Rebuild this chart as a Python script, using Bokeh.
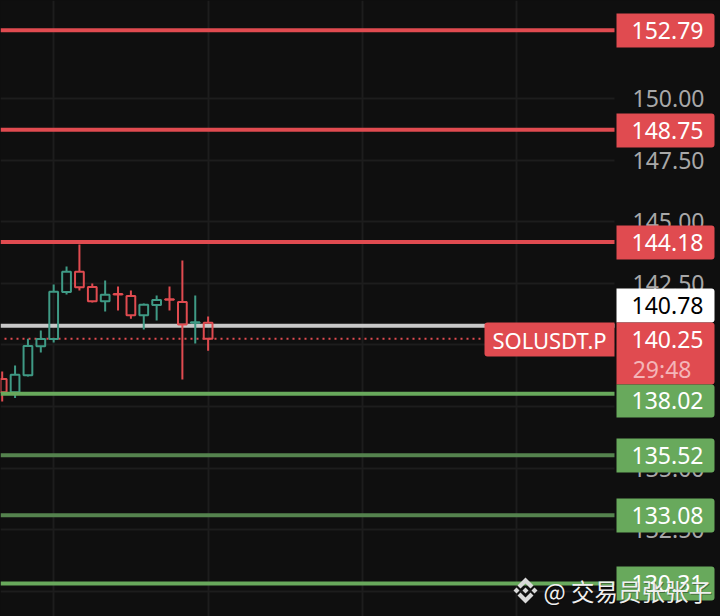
from bokeh.embed import file_html
from bokeh.resources import INLINE
from bokeh.plotting import figure
from bokeh.models import BoxAnnotation, Label, FixedTicker, NumeralTickFormatter, Range1d

symbol = "SOLUSDT.P"
countdown = "29:48"
watermark = "@ 交易员张张子"
price_ticks = [130.0, 132.5, 135.0, 137.5, 140.0, 142.5, 145.0, 147.5, 150.0]
time_ticks = [4, 16, 28, 40]

candle_index = list(range(17))
opens = [138.62, 138.08, 138.77, 139.95, 140.24, 142.15, 142.97, 142.36, 141.78, 142.07, 141.99, 141.21, 141.62, 141.86, 141.75, 140.90, 140.90]
closes = [138.08, 138.79, 139.96, 140.24, 142.16, 142.97, 142.35, 141.78, 142.04, 142.05, 141.21, 141.63, 141.83, 141.84, 140.83, 140.92, 140.25]
highs = [138.92, 139.17, 140.25, 140.59, 142.46, 143.19, 144.08, 142.50, 142.62, 142.38, 142.21, 141.68, 142.01, 142.38, 143.43, 142.01, 141.16]
lows = [137.70, 137.84, 138.72, 139.69, 140.10, 142.05, 142.21, 141.73, 141.36, 141.40, 141.07, 140.63, 140.99, 141.40, 138.60, 140.06, 139.77]

resistance_levels = [152.79, 148.75, 144.18]
support_levels = [138.02, 135.52, 133.08, 130.31]
support_colors = ["#68a95c", "#55834e", "#55834e", "#68a95c"]
mark_price = 140.78
last_price = 140.25

BG = "#0f0f0f"
RED = "#e04b50"
GREEN = "#68a95c"
UP = "#3f9a85"
GRID = "#1d1d1d"
FONT = "Noto Sans"

PX_PER_UNIT = 24.61
PX_PER_BAR = 12.87
Y_TOP = 153.997
X_LEFT = -0.132
PANE_W = 614
FULL_W = 720


def px(sx):
    return X_LEFT + sx / PX_PER_BAR


def py(sy):
    return Y_TOP - sy / PX_PER_UNIT


p = figure(width=FULL_W, height=616, frame_width=FULL_W, frame_height=616,
           x_range=Range1d(X_LEFT, px(FULL_W)), y_range=Range1d(py(616), Y_TOP),
           y_axis_location="right", toolbar_location=None, output_backend="svg",
           background_fill_color=BG, border_fill_color=BG, outline_line_color=None,
           min_border=0, styles={"background-color": BG})
p.xaxis.visible = False
ax = p.yaxis[0]
ax.ticker = FixedTicker(ticks=price_ticks)
ax.formatter = NumeralTickFormatter(format="0.00")
ax.axis_line_color = None
ax.major_tick_line_color = None
ax.minor_tick_line_color = None
ax.major_tick_in = 0
ax.major_tick_out = 0
ax.major_label_standoff = -88
ax.major_label_text_color = "#a8a8a8"
ax.major_label_text_font = FONT
ax.major_label_text_font_size = "23px"
x0, x1 = X_LEFT, px(PANE_W)
p.xgrid.ticker = FixedTicker(ticks=time_ticks)
p.ygrid.ticker = FixedTicker(ticks=price_ticks)
p.xgrid.grid_line_color = GRID
p.ygrid.grid_line_color = GRID
p.xgrid.grid_line_width = 2
p.ygrid.grid_line_width = 2
p.ygrid.cross_bounds = (x0, x1)

p.line([px(4), px(484)], [last_price, last_price], line_color=RED, line_width=2, line_dash="2 4")
p.line([x0, x1], [mark_price, mark_price], line_color="#c8c8c8", line_width=4)

up = [c >= o for o, c in zip(opens, closes)]
colors = [UP if u else RED for u in up]
tops = [max(o, c) for o, c in zip(opens, closes)]
bots = [min(o, c) for o, c in zip(opens, closes)]
p.segment(candle_index, highs, candle_index, tops, line_color=colors, line_width=2)
p.segment(candle_index, bots, candle_index, lows, line_color=colors, line_width=2)
p.vbar(candle_index, width=0.68, top=tops, bottom=bots, fill_alpha=0, line_color=colors, line_width=2)

for lv in resistance_levels:
    p.line([x0, x1], [lv, lv], line_color=RED, line_width=4)
for lv, col in zip(support_levels, support_colors):
    p.line([x0, x1], [lv, lv], line_color=col, line_width=4)

tags = [
    (13, 47, RED, "152.79", "#ffffff", 30),
    (113, 147, RED, "148.75", "#ffffff", 130),
    (225, 259, RED, "144.18", "#ffffff", 242),
    (288, 322, "#ffffff", "140.78", "#000000", 305),
    (322, 384, RED, "140.25", "#ffffff", 339),
    (384, 417, GREEN, "138.02", "#ffffff", 400),
    (438, 472, GREEN, "135.52", "#ffffff", 455),
    (498, 532, GREEN, "133.08", "#ffffff", 515),
    (566, 600, GREEN, "130.31", "#ffffff", 583),
]
for top, bot, col, txt, tcol, cy in tags:
    p.add_layout(BoxAnnotation(left=616, right=714, left_units="screen", right_units="screen",
                               top=py(top), bottom=py(bot), fill_color=col, fill_alpha=1, level="overlay",
                               line_alpha=0, border_radius=dict(top_left=0, top_right=3, bottom_right=3, bottom_left=0)))
    p.add_layout(Label(x=703, y=py(cy), x_units="screen", y_units="data", text=txt, text_color=tcol, level="overlay",
                       text_font=FONT, text_font_size="23px", text_align="right", text_baseline="middle"))
p.add_layout(Label(x=691, y=py(368), x_units="screen", y_units="data", text=countdown, text_color="#f4b5b8", level="overlay",
                   text_font=FONT, text_font_size="23px", text_align="right", text_baseline="middle"))
p.add_layout(BoxAnnotation(left=484, right=614, left_units="screen", right_units="screen",
                           top=py(322), bottom=py(356), fill_color=RED, fill_alpha=1, line_alpha=0, level="overlay",
                           border_radius=dict(top_left=3, top_right=0, bottom_right=0, bottom_left=3)))
p.add_layout(Label(x=549, y=py(339), x_units="screen", y_units="data", text=symbol, text_color="#ffffff", level="overlay",
                   text_font=FONT, text_font_size="22px", text_align="center", text_baseline="middle"))

cx, cy = 525, 590
shapes = [
    [(0, -13), (8, -5), (5, -2), (0, -7), (-5, -2), (-8, -5)],
    [(0, 13), (8, 5), (5, 2), (0, 7), (-5, 2), (-8, 5)],
    [(-9, -3), (-6, 0), (-9, 3), (-12, 0)],
    [(9, -3), (12, 0), (9, 3), (6, 0)],
    [(0, -3), (3, 0), (0, 3), (-3, 0)],
]
p.patches([[px(cx + a) for a, b in s] for s in shapes], [[py(cy + b) for a, b in s] for s in shapes],
          fill_color="#d9d9d9", line_color=None)
p.add_layout(Label(x=543, y=py(590), x_units="screen", y_units="data", text=watermark, text_color="#000000", level="overlay",
                   text_alpha=0.35, x_offset=1, y_offset=-1, text_font="Noto Sans CJK SC", text_font_size="23.5px",
                   text_baseline="middle"))
p.add_layout(Label(x=543, y=py(590), x_units="screen", y_units="data", text=watermark, text_color="#f0f0f0", level="overlay",
                   text_font="Noto Sans CJK SC", text_font_size="23.5px", text_baseline="middle"))

open("out.html", "w").write(file_html(p, INLINE))
